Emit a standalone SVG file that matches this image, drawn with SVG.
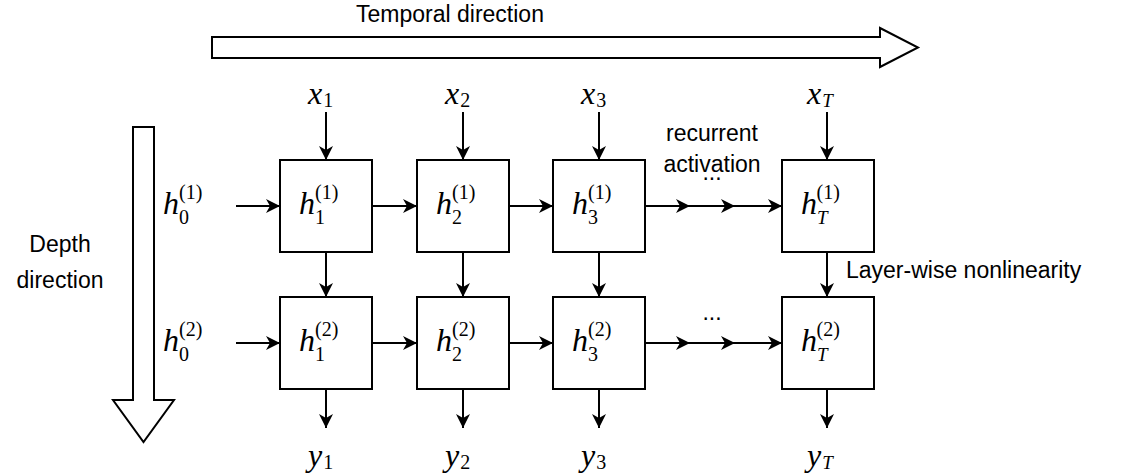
<svg xmlns="http://www.w3.org/2000/svg" width="1127" height="476" viewBox="0 0 1127 476">
<style>
.b{fill:#fff;stroke:#000;stroke-width:2}
.c{stroke:#000;stroke-width:2;fill:none}
.t{font-family:"Liberation Sans",Arial,sans-serif;font-size:23px;fill:#000}
.m{font-family:"Liberation Serif","Times New Roman",serif;font-style:italic;font-size:32px;fill:#000}
.s{font-size:20px;font-style:normal}
.ss{font-size:19px;font-style:italic}
</style>
<defs>
<marker id="A" viewBox="0 0 14 14" refX="14" refY="7" markerWidth="14" markerHeight="14" markerUnits="userSpaceOnUse" orient="auto"><path d="M0,0 L14,7 L0,14 L4,7 Z" fill="#000"/></marker></defs>
<g id="temporal"><path class="b" d="M212,37 H880 V28 L918,47.5 L880,67 V58 H212 Z"/><text class="t" x="450" y="22" text-anchor="middle">Temporal direction</text></g>
<g id="depth"><path class="b" d="M133,127 H154 V400 H174 L143.5,442 L113,400 H133 Z"/><text class="t" x="60" y="252" text-anchor="middle">Depth</text><text class="t" x="60" y="288" text-anchor="middle">direction</text></g>
<g id="connectors">
<path class="c" marker-end="url(#A)" d="M326,112 V160"/><path class="c" marker-end="url(#A)" d="M463,112 V160"/><path class="c" marker-end="url(#A)" d="M599,112 V160"/><path class="c" marker-end="url(#A)" d="M827,112 V160"/>
<path class="c" marker-end="url(#A)" d="M236,206 H280"/><path class="c" marker-end="url(#A)" d="M372,206 H417"/><path class="c" marker-end="url(#A)" d="M509,206 H553"/>
<path class="c" marker-end="url(#A)" d="M645,206 H690"/><path class="c" marker-end="url(#A)" d="M690,206 H735"/><path class="c" marker-end="url(#A)" d="M735,206 H782"/>
<path class="c" marker-end="url(#A)" d="M236,343 H280"/><path class="c" marker-end="url(#A)" d="M372,343 H417"/><path class="c" marker-end="url(#A)" d="M509,343 H553"/>
<path class="c" marker-end="url(#A)" d="M645,343 H690"/><path class="c" marker-end="url(#A)" d="M690,343 H735"/><path class="c" marker-end="url(#A)" d="M735,343 H782"/>
<path class="c" marker-end="url(#A)" d="M326,252 V297"/><path class="c" marker-end="url(#A)" d="M463,252 V297"/><path class="c" marker-end="url(#A)" d="M599,252 V297"/><path class="c" marker-end="url(#A)" d="M827,252 V297"/>
<path class="c" marker-end="url(#A)" d="M326,389 V428"/><path class="c" marker-end="url(#A)" d="M463,389 V428"/><path class="c" marker-end="url(#A)" d="M599,389 V428"/><path class="c" marker-end="url(#A)" d="M827,389 V428"/>
</g>
<g id="labels">
<text class="m" x="308" y="104">x<tspan class="s" dx="1" dy="3">1</tspan></text>
<text class="m" x="445" y="104">x<tspan class="s" dx="1" dy="3">2</tspan></text>
<text class="m" x="581" y="104">x<tspan class="s" dx="1" dy="3">3</tspan></text>
<text class="m" x="807" y="104">x<tspan class="ss" dx="1" dy="3">T</tspan></text>
<text class="m" x="308" y="466">y<tspan class="s" dx="1" dy="3">1</tspan></text>
<text class="m" x="445" y="466">y<tspan class="s" dx="1" dy="3">2</tspan></text>
<text class="m" x="581" y="466">y<tspan class="s" dx="1" dy="3">3</tspan></text>
<text class="m" x="807" y="466">y<tspan class="ss" dx="1" dy="3">T</tspan></text>
<text class="m" x="163" y="214">h<tspan class="s" dy="10">0</tspan><tspan class="s" dx="-10" dy="-25">(1)</tspan></text>
<text class="m" x="163" y="351">h<tspan class="s" dy="10">0</tspan><tspan class="s" dx="-10" dy="-25">(2)</tspan></text>
<text class="t" x="712" y="141" text-anchor="middle">recurrent</text>
<text class="t" x="712" y="172" text-anchor="middle">activation</text>
<text class="t" x="712" y="180" text-anchor="middle">...</text>
<text class="t" x="712" y="320" text-anchor="middle">...</text>
<text class="t" x="846" y="278">Layer-wise nonlinearity</text>
</g>
<g id="n11"><rect class="b" x="280" y="160" width="92" height="92"/><text class="m" x="299" y="214">h<tspan class="s" dy="10">1</tspan><tspan class="s" dx="-10" dy="-25">(1)</tspan></text></g>
<g id="n21"><rect class="b" x="417" y="160" width="92" height="92"/><text class="m" x="436" y="214">h<tspan class="s" dy="10">2</tspan><tspan class="s" dx="-10" dy="-25">(1)</tspan></text></g>
<g id="n31"><rect class="b" x="553" y="160" width="92" height="92"/><text class="m" x="572" y="214">h<tspan class="s" dy="10">3</tspan><tspan class="s" dx="-10" dy="-25">(1)</tspan></text></g>
<g id="nT1"><rect class="b" x="782" y="160" width="92" height="92"/><text class="m" x="801" y="214">h<tspan class="ss" dy="10">T</tspan><tspan class="s" dx="-11" dy="-25">(1)</tspan></text></g>
<g id="n12"><rect class="b" x="280" y="297" width="92" height="92"/><text class="m" x="299" y="351">h<tspan class="s" dy="10">1</tspan><tspan class="s" dx="-10" dy="-25">(2)</tspan></text></g>
<g id="n22"><rect class="b" x="417" y="297" width="92" height="92"/><text class="m" x="436" y="351">h<tspan class="s" dy="10">2</tspan><tspan class="s" dx="-10" dy="-25">(2)</tspan></text></g>
<g id="n32"><rect class="b" x="553" y="297" width="92" height="92"/><text class="m" x="572" y="351">h<tspan class="s" dy="10">3</tspan><tspan class="s" dx="-10" dy="-25">(2)</tspan></text></g>
<g id="nT2"><rect class="b" x="782" y="297" width="92" height="92"/><text class="m" x="801" y="351">h<tspan class="ss" dy="10">T</tspan><tspan class="s" dx="-11" dy="-25">(2)</tspan></text></g>
</svg>
